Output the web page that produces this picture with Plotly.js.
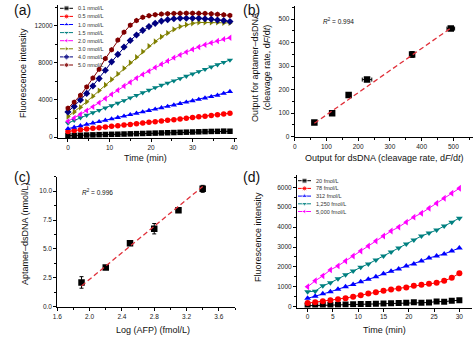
<!DOCTYPE html>
<html><head><meta charset="utf-8">
<script src="https://cdn.plot.ly/plotly-3.0.1.min.js"></script>
<style>html,body{margin:0;padding:0;background:#fff}#wrap{position:relative;width:474px;height:351px;background:#fff}
.panel{position:absolute;left:0;top:0;width:474px;height:351px}</style>
</head><body><div id="wrap"><div id="pa" class="panel"></div><div id="pb" class="panel"></div><div id="pc" class="panel"></div><div id="pd" class="panel"></div></div>
<script>
// ---------- Panel (a) ----------
const timeA = [0,1.5,3,4.5,6,7.5,9,10.5,12,13.5,15,16.5,18,19.5,21,22.5,24,25.5,27,28.5,30,31.5,33,34.5,36,37.5,39];
const namesA = ['0.1 nmol/L','0.5 nmol/L','1.0 nmol/L','1.5 nmol/L','2.0 nmol/L','3.0 nmol/L','4.0 nmol/L','5.0 nmol/L'];
const a01 = [150,170,190,210,230,250,270,290,300,320,340,360,380,400,420,440,460,480,500,520,540,560,580,600,610,630,620];
const a05 = [600,700,790,870,940,1010,1080,1150,1220,1290,1360,1430,1500,1580,1650,1720,1800,1870,1950,2020,2100,2170,2250,2320,2400,2480,2560];
const a10 = [900,1050,1200,1350,1500,1650,1800,1950,2100,2250,2400,2550,2700,2850,3000,3150,3300,3450,3600,3750,3900,4050,4200,4350,4500,4700,4900];
const a15 = [1500,1800,2080,2350,2620,2880,3130,3380,3650,3930,4220,4500,4780,5050,5330,5580,5820,6060,6300,6550,6800,7050,7300,7550,7800,8050,8300];
const a20 = [1700,2050,2450,2850,3250,3700,4150,4600,5050,5500,5900,6350,6750,7100,7500,7850,8200,8550,8850,9150,9450,9700,9950,10150,10350,10550,10700];
const a30 = [2200,2700,3200,3800,4400,5000,5600,6200,6800,7400,8000,8600,9200,9800,10300,10800,11200,11600,11900,12100,12250,12350,12350,12350,12350,12300,12300];
const a40 = [2700,3300,4000,4700,5500,6300,7200,8100,8900,9700,10400,11000,11500,11900,12250,12500,12650,12750,12800,12800,12800,12800,12750,12700,12600,12550,12450];
const a50 = [3100,3750,4500,5400,6350,7300,8450,9400,10450,11300,12050,12550,12900,13080,13180,13250,13300,13320,13340,13350,13350,13340,13320,13280,13230,13170,13100];
const seriesA = [a01,a05,a10,a15,a20,a30,a40,a50];
const colorsA = ['#000000','#ff0000','#0000ff','#008080','#ff00ff','#808000','#000080','#800000'];
const symbolsA = ['square','circle','triangle-up','triangle-down','triangle-left','triangle-right','diamond','hexagon'];

// ---------- Panel (b) ----------
const bX = [62,118,170,228,370,492];
const bY = [60,100,177,243,350,460];
const bXerr = [0,0,0,15,4,12];
const bYerr = [0,0,4,0,12,0];
const bFitX = [62,492];
const bFitY = [57,462];

// ---------- Panel (c) ----------
const cX = [1.9,2.2,2.5,2.8,3.1,3.4];
const cY = [2.1,3.4,5.5,6.75,8.35,10.2];
const cYerr = [0.5,0.1,0.2,0.45,0.2,0.3];
const cFitX = [1.9,3.4];
const cFitY = [1.8,10.4];

// ---------- Panel (d) ----------
const timeD = [0,1.5,3,4.5,6,7.5,9,10.5,12,13.5,15,16.5,18,19.5,21,22.5,24,25.5,27,28.5,30];
const namesD = ['20 fmol/L','78 fmol/L','312 fmol/L','1,250 fmol/L','5,000 fmol/L'];
const d20 = [50,60,80,90,100,110,120,130,140,150,160,170,180,200,220,200,210,260,250,300,320];
const d78 = [180,220,270,330,380,430,500,580,660,730,800,870,920,970,1050,1100,1150,1200,1300,1450,1680];
const d312 = [420,520,650,750,880,1000,1120,1250,1380,1500,1650,1780,1900,2050,2150,2300,2450,2550,2650,2800,2950];
const d1250 = [750,780,1050,1200,1400,1600,1800,1980,2150,2350,2550,2750,2950,3150,3350,3550,3700,3850,4050,4250,4450];
const d5000 = [1000,1300,1550,1850,2050,2300,2550,2800,3050,3300,3550,3800,4000,4250,4500,4700,4950,5200,5450,5700,5950];
const seriesD = [d20,d78,d312,d1250,d5000];
const colorsD = ['#000000','#ff0000','#0000ff','#008080','#ff00ff'];
const symbolsD = ['square','circle','triangle-up','triangle-down','triangle-left'];

const FONT = 'Liberation Sans, Arial, sans-serif';
const W = 474, H = 351;

// pixel boxes of the four plot areas [left, right, top, bottom] and their ranges
const boxA = [58,237,5,138],      rxA = [-2.4,40.7], ryA = [-108,14230];
const boxB = [294.7,473,6,136.7], rxB = [0,562],     ryB = [0,556];
const boxC = [57.3,235,176.7,306.7], rxC = [1.6,3.8], ryC = [0,11.25];
const boxD = [297,472,175,307.5], rxD = [-2.1,32.5], ryD = [-40,6618];
function px2x(box, rx, px){ return rx[0] + (px-box[0])/(box[1]-box[0])*(rx[1]-rx[0]); }
function py2y(box, ry, py){ return ry[0] + (box[3]-py)/(box[3]-box[2])*(ry[1]-ry[0]); }

function ann(list, text, px, py, size, opts){
  list.push(Object.assign({xref:'paper',yref:'paper',x:px/W,y:1-py/H,xanchor:'center',yanchor:'middle',
    showarrow:false,text:text,font:{family:FONT,size:size,color:'#111'}},opts||{}));
}
function legend(traces, anns, names, colors, symbols, box, rx, ry, x0, y0, dy, sz){
  names.forEach((n,i)=>{
    const py = y0 + i*dy;
    const xs = [x0, x0+6.5, x0+13].map(p=>px2x(box,rx,p));
    const yv = py2y(box,ry,py);
    traces.push({x:xs,y:[yv,yv,yv],type:'scatter',mode:'lines+markers',showlegend:false,cliponaxis:false,
      line:{color:colors[i],width:1},marker:{symbol:symbols[i],color:colors[i],size:[0,sz,0]},hoverinfo:'skip'});
    anns.push({xref:'paper',yref:'paper',x:(x0+16)/W,y:1-py/H,xanchor:'left',yanchor:'middle',showarrow:false,
      text:n,font:{family:FONT,size:5.5,color:'#333'}});
  });
}
function ax(box, range, isY, dtick, tick0, minorDtick, extra){
  const domain = isY ? [1-box[3]/H, 1-box[2]/H] : [box[0]/W, box[1]/W];
  return Object.assign({domain:domain,range:range,dtick:dtick,tick0:tick0,showgrid:false,zeroline:false,
    showline:true,linecolor:'#000',linewidth:1,ticks:'outside',ticklen:3,tickwidth:1,tickcolor:'#000',
    tickfont:{family:FONT,size:6.5,color:'#222'},tickformat:'d',
    minor:minorDtick?{ticks:'outside',ticklen:2,tickwidth:1,tickcolor:'#000',dtick:minorDtick,showgrid:false}:undefined,
    fixedrange:true},extra||{});
}
function draw(id, traces, xaxis, yaxis, anns){
  Plotly.newPlot(id, traces, {width:W,height:H,margin:{l:0,r:0,t:0,b:0},
    paper_bgcolor:'rgba(0,0,0,0)',plot_bgcolor:'rgba(0,0,0,0)',showlegend:false,font:{family:FONT},
    xaxis:xaxis,yaxis:yaxis,annotations:anns},{staticPlot:true,displayModeBar:false});
}

// ---- (a)
const tA = [], nA = [];
seriesA.forEach((s,i)=>tA.push({x:timeA,y:s,type:'scatter',mode:'lines+markers',showlegend:false,
  line:{color:colorsA[i],width:1},marker:{symbol:symbolsA[i],color:colorsA[i],size:5.5}}));
legend(tA, nA, namesA, colorsA, symbolsA, boxA, rxA, ryA, 60, 8.3, 8.1, 5);
ann(nA,'(a)', 22, 10, 14);
ann(nA,'Time (min)', 145, 158, 9);
ann(nA,'Fluorescence intensity', 23, 73, 9, {textangle:-90});
draw('pa', tA, ax(boxA,rxA,false,10,0,5), ax(boxA,ryA,true,4000,0,2000), nA);

// ---- (b)
const tB = [{x:bX,y:bY,type:'scatter',mode:'markers',showlegend:false,
  marker:{symbol:'square',color:'#000',size:6.5},
  error_x:{type:'data',array:bXerr,visible:true,color:'#000',thickness:1,width:2},
  error_y:{type:'data',array:bYerr,visible:true,color:'#000',thickness:1,width:2}},
  {x:bFitX,y:bFitY,type:'scatter',mode:'lines',showlegend:false,line:{color:'#e0303a',width:1.3,dash:'5px,3px'}}];
const nB = [];
ann(nB,'(b)', 252, 10, 14);
ann(nB,'Output for dsDNA (cleavage rate, d<i>F</i>/d<i>t</i>)', 384, 158, 9);
ann(nB,'Output for aptamer–dsDNA<br>(cleavage rate, d<i>F</i>/d<i>t</i>)', 261, 68, 9, {textangle:-90});
ann(nB,'<i>R</i><sup>2</sup> = 0.994', 338, 20.7, 6.5);
draw('pb', tB, ax(boxB,rxB,false,100,0,50), ax(boxB,ryB,true,100,0,50), nB);

// ---- (c)
const tC = [{x:cX,y:cY,type:'scatter',mode:'markers',showlegend:false,
  marker:{symbol:'square',color:'#000',size:6.5},
  error_y:{type:'data',array:cYerr,visible:true,color:'#000',thickness:1,width:2}},
  {x:cFitX,y:cFitY,type:'scatter',mode:'lines',showlegend:false,line:{color:'#e0303a',width:1.3,dash:'5px,3px'}}];
const nC = [];
ann(nC,'(c)', 22, 177, 14);
ann(nC,'Log (AFP) (fmol/L)', 153, 330, 9);
ann(nC,'Aptamer–dsDNA (nmol/L)', 25, 234, 9, {textangle:-90});
ann(nC,'<i>R</i><sup>2</sup> = 0.996', 97, 191.7, 6.5);
draw('pc', tC, ax(boxC,rxC,false,0.4,1.6,0.2,{tickformat:'.1f'}), ax(boxC,ryC,true,2.5,0,1.25,{tickformat:'.1f'}), nC);

// ---- (d)
const tD = [], nD = [];
seriesD.forEach((s,i)=>tD.push({x:timeD,y:s,type:'scatter',mode:'lines+markers',showlegend:false,
  line:{color:colorsD[i],width:1},marker:{symbol:symbolsD[i],color:colorsD[i],size:6}}));
legend(tD, nD, namesD, colorsD, symbolsD, boxD, rxD, ryD, 298, 180.7, 7.7, 5);
ann(nD,'(d)', 252, 177, 14);
ann(nD,'Time (min)', 384, 330, 9);
ann(nD,'Fluorescence intensity', 258, 237, 9, {textangle:-90});
draw('pd', tD, ax(boxD,rxD,false,5,0,null), ax(boxD,ryD,true,1000,0,500), nD);
</script></body></html>
